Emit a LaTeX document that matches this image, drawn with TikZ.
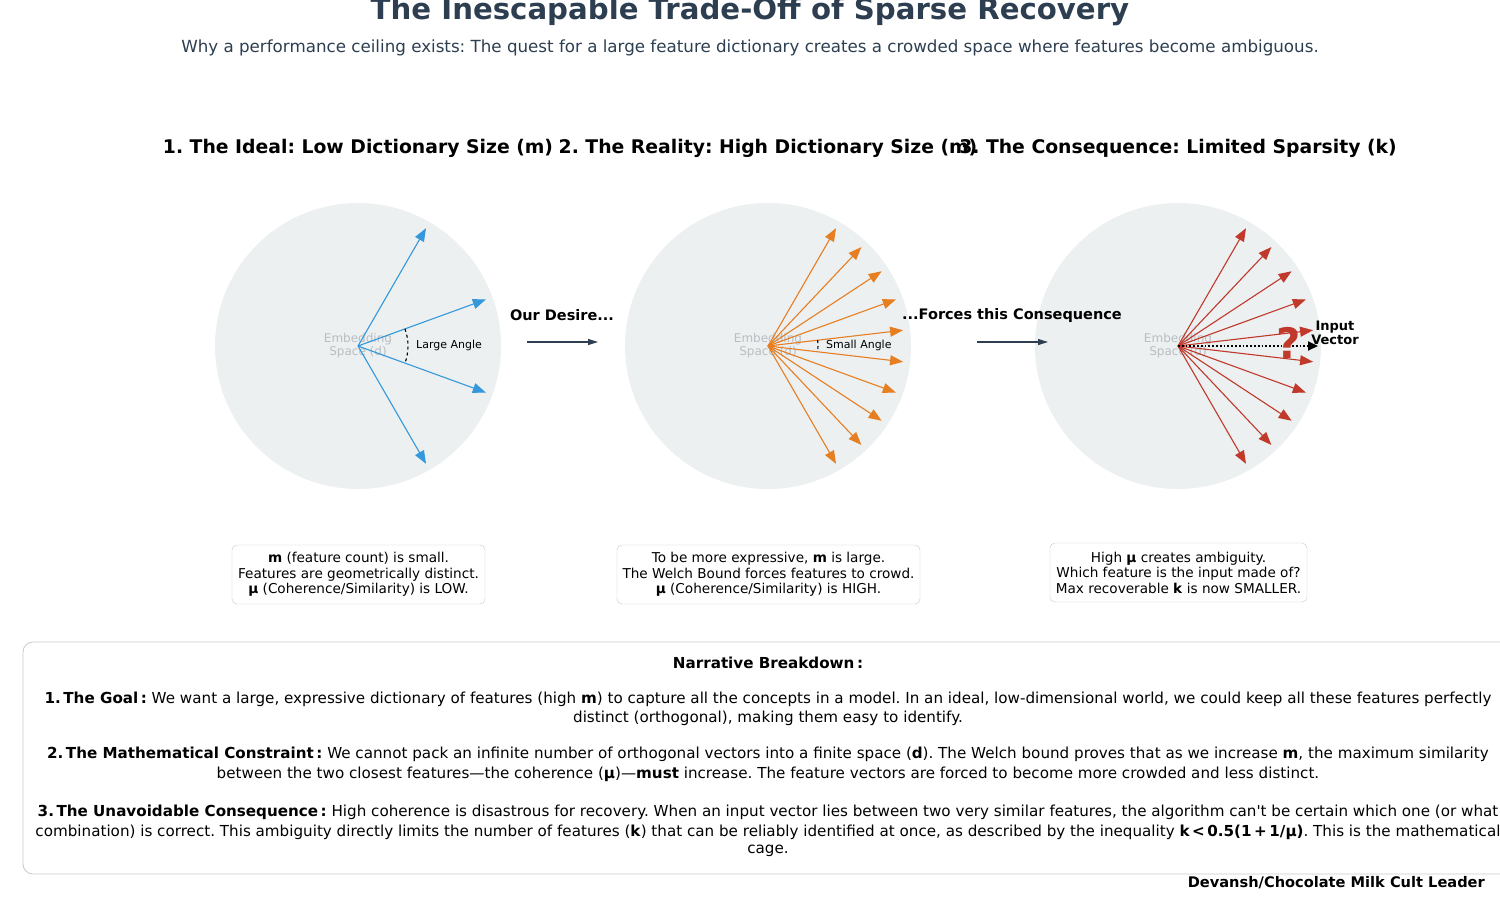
\documentclass[tikz,border=0pt]{standalone}
\usepackage{fontspec}
\setmainfont{DejaVu Sans}[Ligatures=TeXOff]
\frenchspacing
\usetikzlibrary{arrows.meta,calc}
\definecolor{circbg}{HTML}{ECF0F1}
\definecolor{cblue}{HTML}{3498DB}
\definecolor{corange}{HTML}{E67E22}
\definecolor{cred}{HTML}{C0392B}
\definecolor{cdark}{HTML}{2C3E50}
\definecolor{cgraytxt}{HTML}{B8BEC2}
\definecolor{cborder}{HTML}{C8C8C8}
\begin{document}
\begin{tikzpicture}[x=1pt,y=-1pt,
  space/.style={circle, fill=circbg, minimum size=286pt, inner sep=0pt},
  embtxt/.style={text=cgraytxt, align=center, font=\fontsize{12}{13}\selectfont},
  vec/.style={line width=1.1pt, -{Triangle[length=13pt,width=10pt]}},
  flow/.style={cdark, line width=1.1pt, -{Triangle[length=10pt,width=6pt]}},
  infobox/.style={draw=cborder, fill=white, rounded corners=5pt, align=center, inner sep=0pt, font=\fontsize{13.6}{15.5}\selectfont},
  paneltitle/.style={font=\bfseries\fontsize{18.8}{22}\selectfont},
  flowtxt/.style={font=\bfseries\fontsize{14.5}{17}\selectfont},
  narr/.style={font=\fontsize{15.15}{18}\selectfont, inner sep=0pt},
  anglab/.style={font=\fontsize{11}{13}\selectfont, anchor=west, inner sep=0pt}]
\useasboundingbox (0,0) rectangle (1500,900);

% titles
\node[text=cdark, font=\bfseries\fontsize{29.2}{33}\selectfont] (title) at (750,12) {The Inescapable Trade-Off of Sparse Recovery};
\node[text=cdark, font=\fontsize{16.7}{20}\selectfont] (subtitle) at (750,48) {Why a performance ceiling exists: The quest for a large feature dictionary creates a crowded space where features become ambiguous.};

\node[paneltitle] (pt1) at (358,148) {1. The Ideal: Low Dictionary Size (m)};
\node[paneltitle] (pt2) at (768,148) {2. The Reality: High Dictionary Size (m)};
\node[paneltitle] (pt3) at (1178,148) {3. The Consequence: Limited Sparsity (k)};

% circles
\node[space] (c1) at (358,346) {};
\node[space] (c2) at (768,346) {};
\node[space] (c3) at (1178,346) {};
\node[embtxt] (e1) at (358,346) {Embedding\\Space (d)};
\node[embtxt] (e2) at (768,346) {Embedding\\Space (d)};
\node[embtxt] (e3) at (1178,346) {Embedding\\Space (d)};

% panel 1 vectors
\foreach \a [count=\i] in {-60,-20,20,60}{
  \coordinate (a\i) at ($(c1.center)+(\a:136)$);
  \draw[vec, cblue] (c1.center) -- (a\i);
}
\draw[dashed, line width=1.1pt] ($(c1.center)+(-20:50)$) arc[start angle=-20, end angle=20, radius=50];
\node[anglab] (la) at (416,345) {Large Angle};

% panel 2 vectors
\foreach \a [count=\i] in {-60,-46.667,-33.333,-20,-6.667,6.667,20,33.333,46.667,60}{
  \coordinate (b\i) at ($(c2.center)+(\a:136)$);
  \draw[vec, corange] (c2.center) -- (b\i);
}
\draw[dashed, line width=1.1pt] ($(c2.center)+(-6.667:50)$) arc[start angle=-6.667, end angle=6.667, radius=50];
\node[anglab] (sa) at (826,345) {Small Angle};

% panel 3 vectors
\foreach \a [count=\i] in {-60,-46.667,-33.333,-20,-6.667,6.667,20,33.333,46.667,60}{
  \coordinate (r\i) at ($(c3.center)+(\a:136)$);
  \draw[vec, cred] (c3.center) -- (r\i);
}
\coordinate (iv) at (1318,346);
\draw[line width=1.8pt, dotted, -{Triangle[length=10pt,width=9pt]}] (c3.center) -- (iv);
\node[text=cred, font=\bfseries\fontsize{42}{46}\selectfont, inner sep=0pt] (q) at (1289,343) {?};
\node[align=center, font=\bfseries\fontsize{13}{13.5}\selectfont, inner sep=0pt] (ivl) at (1335,333) {Input\\Vector};

% flow arrows
\node[flowtxt] (d1) at (562,315) {Our Desire...};
\coordinate (f1a) at (527,342);
\coordinate (f1b) at (598,342);
\draw[flow] (f1a) -- (f1b);
\node[flowtxt] (d2) at (1012,315) {...Forces this Consequence};
\coordinate (f2a) at (977,342);
\coordinate (f2b) at (1048,342);
\draw[flow] (f2a) -- (f2b);

% info boxes
\node[infobox, minimum width=253pt, minimum height=59pt] (b1) at (358.5,574.5) {\textbf{m} (feature count) is small.\\Features are geometrically distinct.\\\textbf{μ} (Coherence/Similarity) is LOW.};
\node[infobox, minimum width=303pt, minimum height=59pt] (b2) at (768.5,574.5) {To be more expressive, \textbf{m} is large.\\The Welch Bound forces features to crowd.\\\textbf{μ} (Coherence/Similarity) is HIGH.};
\node[infobox, minimum width=257pt, minimum height=59pt] (b3) at (1178.5,572.5) {High \textbf{μ} creates ambiguity.\\Which feature is the input made of?\\Max recoverable \textbf{k} is now SMALLER.};

% narrative box
\draw[cborder, rounded corners=10pt, line width=0.8pt] (23,642) rectangle (1513,874);
\node[narr] (n0) at (768,663) {\textbf{Narrative Breakdown\,:}};
\node[narr] (n1) at (768,699) {\textbf{1.\,The Goal\,:} We want a large, expressive dictionary of features (high \textbf{m}) to capture all the concepts in a model. In an ideal, low-dimensional world, we could keep all these features perfectly};
\node[narr] (n2) at (768,718) {distinct (orthogonal), making them easy to identify.};
\node[narr] (n3) at (768,754) {\textbf{2.\,The Mathematical Constraint\,:} We cannot pack an infinite number of orthogonal vectors into a finite space (\textbf{d}). The Welch bound proves that as we increase \textbf{m}, the maximum similarity};
\node[narr] (n4) at (768,774) {between the two closest features—the coherence (\textbf{μ})—\textbf{must} increase. The feature vectors are forced to become more crowded and less distinct.};
\node[narr] (n5) at (768,812) {\textbf{3.\,The Unavoidable Consequence\,:} High coherence is disastrous for recovery. When an input vector lies between two very similar features, the algorithm can't be certain which one (or what};
\node[narr] (n6) at (768,832) {combination) is correct. This ambiguity directly limits the number of features (\textbf{k}) that can be reliably identified at once, as described by the inequality \textbf{k\,<\,0.5(1\,+\,1/μ)}. This is the mathematical};
\node[narr] (n7) at (768,851) {cage.};

% footer
\node[anchor=east, font=\bfseries\fontsize{14.6}{17}\selectfont, inner sep=0pt] (foot) at (1485,883) {Devansh/Chocolate Milk Cult Leader};
\end{tikzpicture}
\end{document}
